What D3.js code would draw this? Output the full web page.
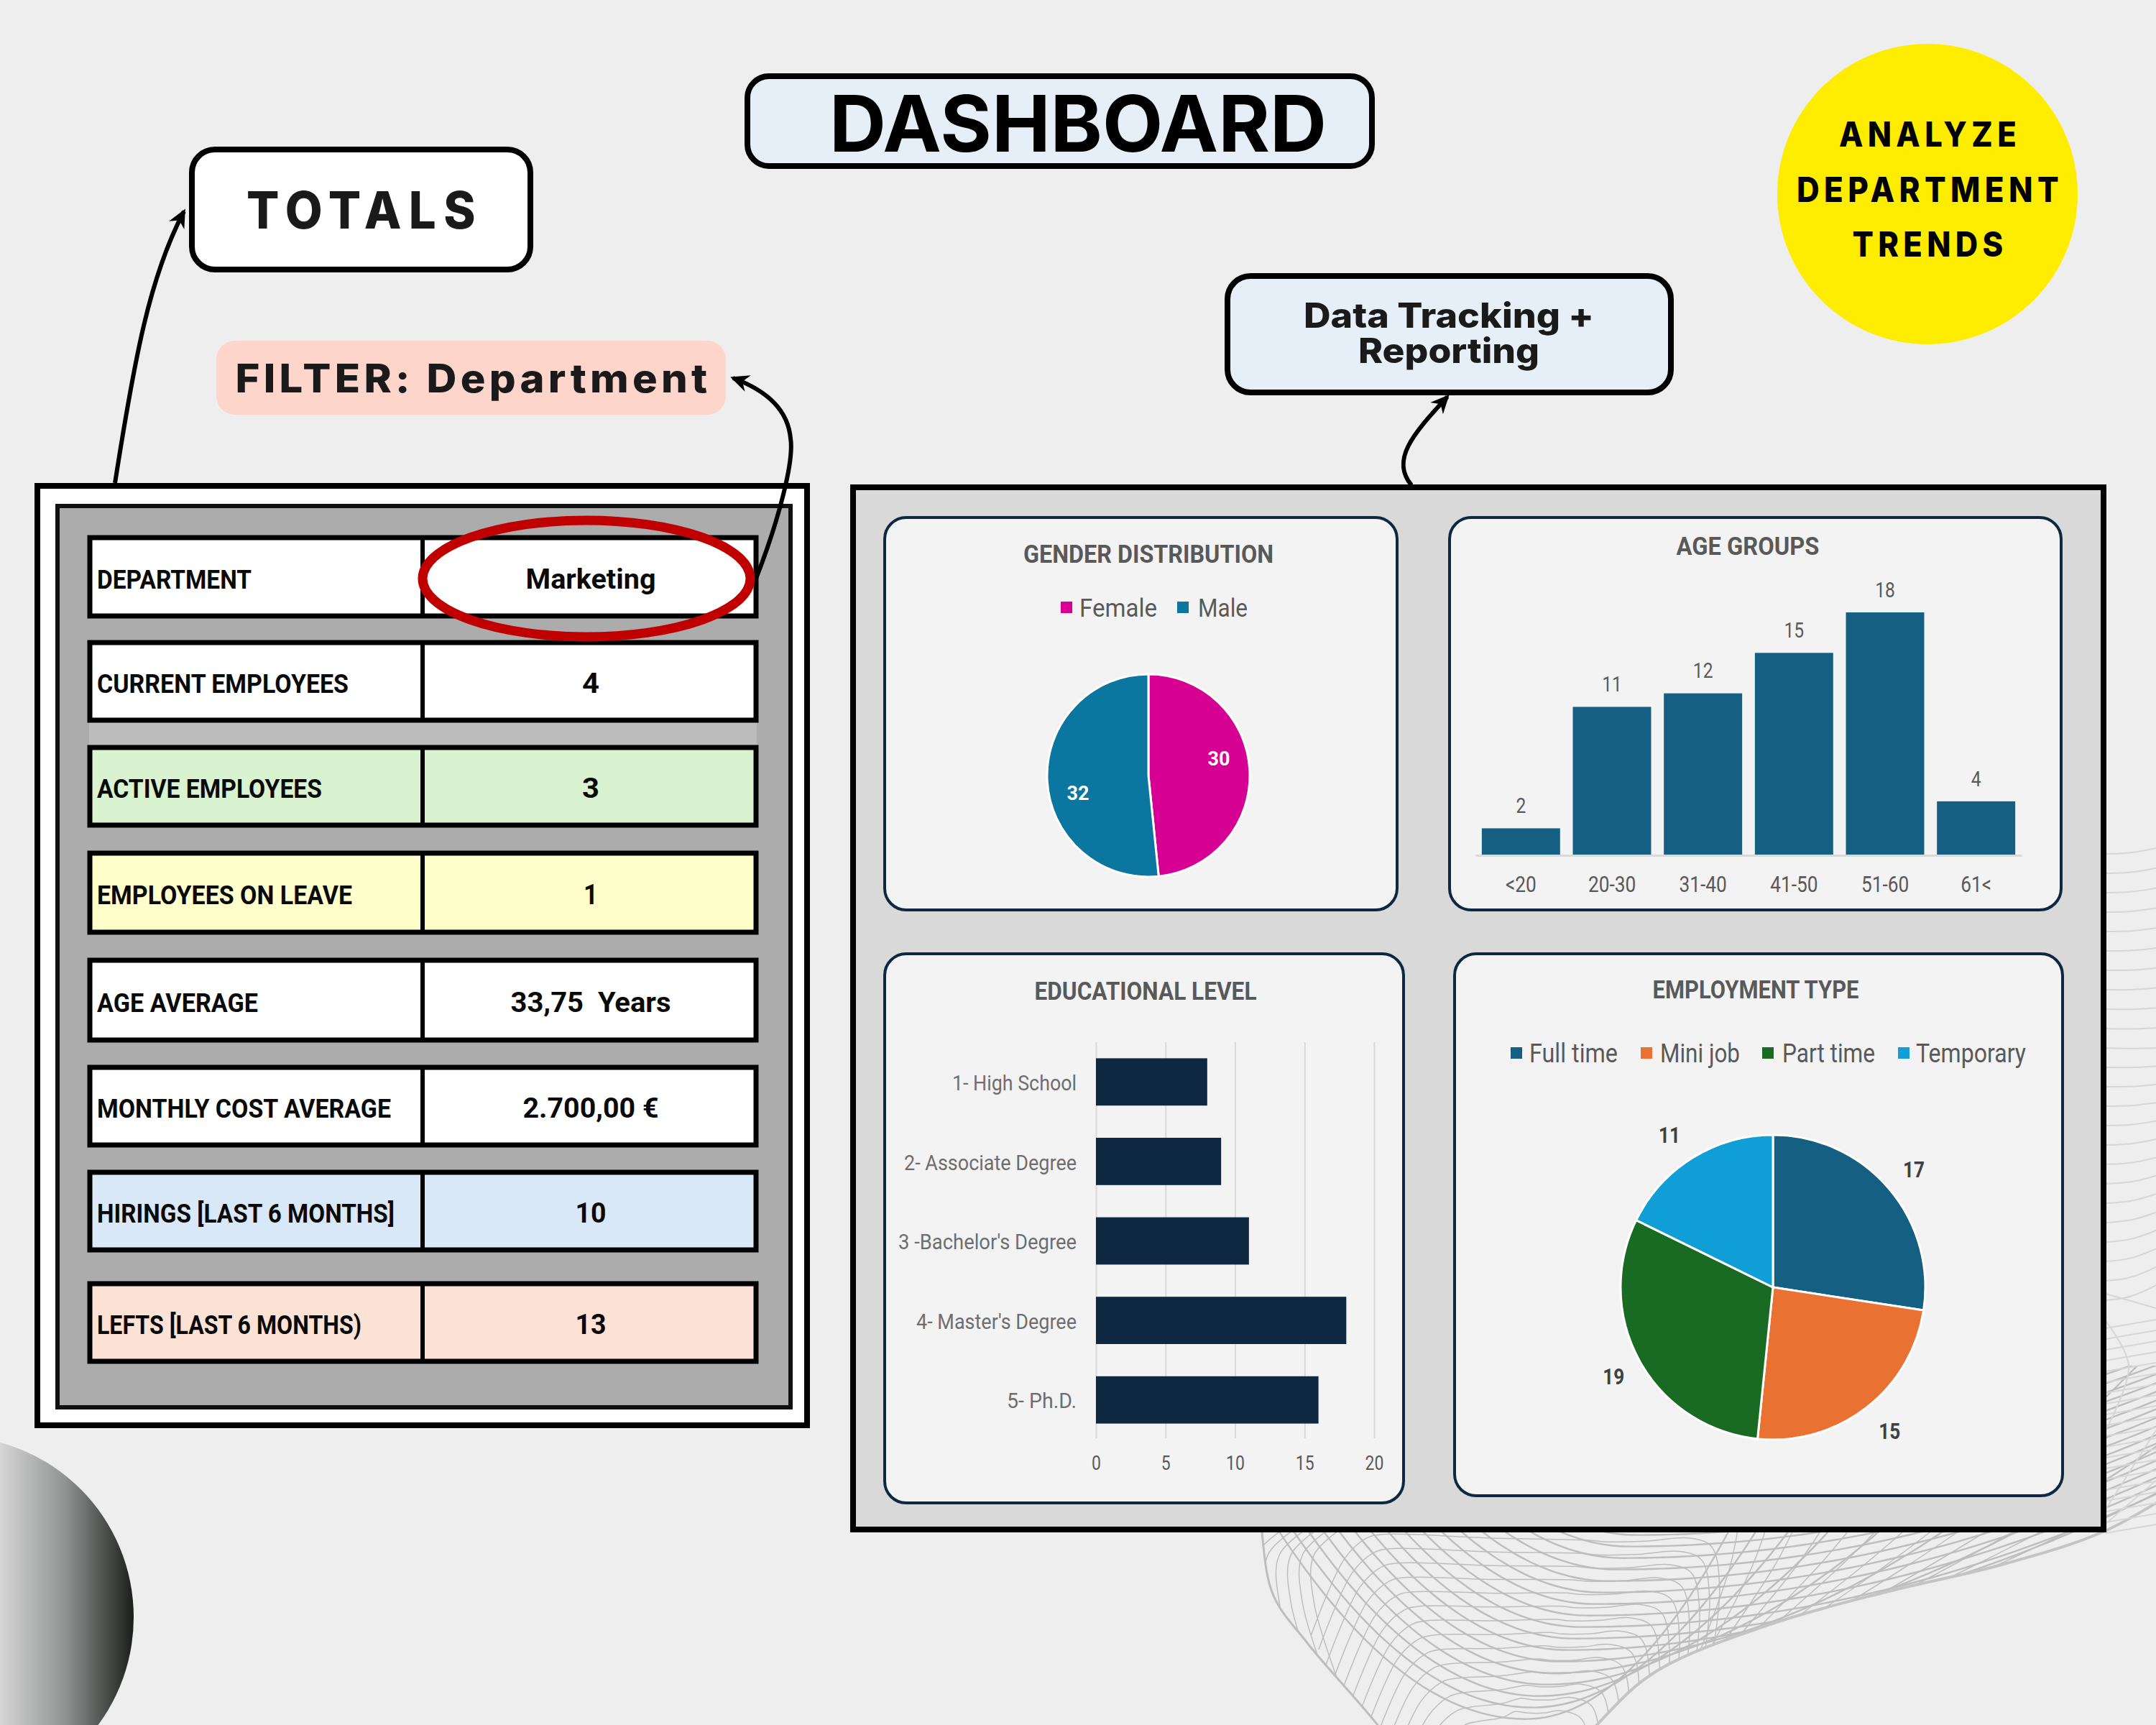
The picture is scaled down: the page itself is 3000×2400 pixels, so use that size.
<!DOCTYPE html>
<html>
<head>
<meta charset="utf-8">
<script src="https://cdn.jsdelivr.net/npm/d3@7/dist/d3.min.js"></script>
<style>
  html, body { margin: 0; padding: 0; background: #eeeeee; }
  svg { display: block; }
</style>
</head>
<body>
<div id="chart"></div>
<script>
// values
const rowLabels = ["DEPARTMENT", "CURRENT EMPLOYEES", "ACTIVE EMPLOYEES", "EMPLOYEES ON LEAVE", "AGE AVERAGE", "MONTHLY COST AVERAGE", "HIRINGS [LAST 6 MONTHS]", "LEFTS [LAST 6 MONTHS)"];
const rowValues = ["Marketing", "4", "3", "1", "33,75  Years", "2.700,00 €", "10", "13"];

const genderNames = ["Female", "Male"];
const genderCounts = [30, 32];

const ageGroups = ["<20", "20-30", "31-40", "41-50", "51-60", "61<"];
const ageCounts = [2, 11, 12, 15, 18, 4];

const eduLevels = ["1- High School", "2- Associate Degree", "3 -Bachelor's Degree", "4- Master's Degree", "5- Ph.D."];
const eduCounts = [8, 9, 11, 18, 16];
const eduTicks = [0, 5, 10, 15, 20];

const jobTypes = ["Full time", "Mini job", "Part time", "Temporary"];
const jobCounts = [17, 15, 19, 11];

// table layout, separate from the values
const rowBoxes = [[745, 860], [891, 1005], [1037, 1151], [1184, 1300], [1333, 1450], [1482, 1596], [1628, 1742], [1783, 1897]];
const rowFills = ["#ffffff", "#ffffff", "#d9f2d0", "#ffffcc", "#ffffff", "#ffffff", "#d9e8f7", "#fbe2d5"];
const labelWidths = [215, 350, 313, 355, 224, 409, 414, 368];
const valueWidths = [181, 24, 24, 20, 223, 189, 43, 43];
const eduLabelWidths = [173, 240, 248, 223, 97];
const jobLabelNudge = [[1, 3], [5, -3], [3, -1], [-8, 6]];

const narrow = "Roboto, 'Liberation Sans', sans-serif";
const heavy = "Inter, 'Open Sans', sans-serif";
const ink = "#1a1a1a";
const grey = "#595959";
const narrowRatio = 0.82;

const svg = d3.select("#chart").append("svg").attr("width", 3000).attr("height", 2400);
svg.append("rect").attr("width", 3000).attr("height", 2400).attr("fill", "#eeeeee");
const defs = svg.append("defs");

// chart text in the reference is a narrow face, so pull the glyphs in
function squeeze(sel) {
  sel.each(function () {
    d3.select(this).attr("textLength", this.getComputedTextLength() * narrowRatio).attr("lengthAdjust", "spacingAndGlyphs");
  });
}

// text helper, width squeezes the glyphs to the measured size
function put(g, str, x, y, o) {
  const t = g.append("text").attr("x", x + (o.track || 0) / 2).attr("y", y).attr("dy", "0.36em")
    .attr("text-anchor", o.anchor || "middle")
    .attr("font-family", o.font || narrow)
    .attr("font-weight", o.weight || "normal")
    .attr("font-size", o.size)
    .attr("fill", o.fill || ink)
    .style("white-space", "pre")
    .text(str);
  if (o.track) t.attr("letter-spacing", o.track);
  if (o.width) t.attr("textLength", o.width).attr("lengthAdjust", "spacingAndGlyphs");
  else squeeze(t);
  return t;
}

/* ---------- backdrop: wire mesh and the shaded ball ---------- */
const mesh = svg.append("g");
const leftEdge = [[1752, 2040], [1756, 2133], [1772, 2220], [1820, 2287], [1917, 2400], [2040, 2560]];
const rightEdge = [[3050, 2060], [2929, 2130], [2785, 2177], [2624, 2215], [2463, 2260], [2302, 2327], [2222, 2400], [2090, 2560]];

defs.append("clipPath").attr("id", "meshClip").append("path")
  .attr("d", d3.line().curve(d3.curveCatmullRom)(leftEdge) + "L" + d3.line().curve(d3.curveCatmullRom)(rightEdge.slice().reverse()).slice(1) + "L3050,1900L1752,1900Z");
const meshLines = mesh.append("g").attr("clip-path", "url(#meshClip)").attr("fill", "none").attr("stroke", "#bdbdbd");

// mesh is measured in crop space, 1260x280 at 1.244 by 3
const zx = x => 1740 + x / 1.244, zy = y => 2120 + y / 3;
const smooth = d3.line().curve(d3.curveCatmullRom.alpha(0.5));

// thick sagging strands, lowest one first
d3.range(26).forEach(i => {
  const cy = 815 - 48 * i;
  const cx = 480 + (800 - cy) * 0.25;
  const steepR = 0.00056 + 0.0034 * Math.pow(Math.max(0, (cy - 450) / 280), 2);
  const pts = d3.range(-100, 1700, 20).map(x => {
    const run = x - cx;
    return [zx(x), zy(cy - (run < 0 ? 0.0043 * run * run : steepR * run * run))];
  });
  meshLines.append("path").attr("d", smooth(pts)).attr("stroke-width", 2.4);
});

// thin nested M curves
d3.range(14).forEach(i => {
  const t = i / 13;
  const lp = [395 - 170 * t, 825 - 780 * t];
  const dp = [480 + 130 * t, 790 - 715 * t];
  const rp = [535 + 225 * t, 780 - 720 * t];
  const pts = [
    [lp[0] - 120, lp[1] + 420], [lp[0] - 62, lp[1] + 100], [lp[0] - 25, lp[1] + 16], lp,
    [(lp[0] + dp[0]) / 2, (lp[1] + dp[1]) / 2], [dp[0] - 22, dp[1] - 6], dp,
    [(dp[0] + rp[0]) / 2, (dp[1] + rp[1]) / 2 + 5], rp,
    [rp[0] + 38, rp[1] + 35], [rp[0] + 52, rp[1] + 200], [rp[0] + 40, rp[1] + 480]
  ].map(d => [zx(d[0]), zy(d[1])]);
  meshLines.append("path").attr("d", smooth(pts)).attr("stroke-width", 1.5);
});

// thin runs left and right of the M curves
d3.range(6).forEach(i => {
  const x0 = 10 + 20 * i;
  const pts = [[x0 + 60, 0], [x0, 130], [x0, 330], [x0 + 70, 840]].map(d => [zx(d[0]), zy(d[1])]);
  meshLines.append("path").attr("d", smooth(pts)).attr("stroke-width", 1.5);
});
d3.range(13).forEach(i => {
  const x0 = 840 + 50 * i;
  const pts = [[x0 + 5, 0], [x0 - 10 - 12 * i, 180], [x0 - 60 - 34 * i, 520]].map(d => [zx(d[0]), zy(d[1])]);
  meshLines.append("path").attr("d", smooth(pts)).attr("stroke-width", 1.5);
});

mesh.append("path").attr("d", smooth(leftEdge)).attr("fill", "none").attr("stroke", "#bdbdbd").attr("stroke-width", 3);
mesh.append("path").attr("d", smooth(rightEdge)).attr("fill", "none").attr("stroke", "#c4c4c4").attr("stroke-width", 4);

// strands showing to the right of the chart panel
const strip = svg.append("g").attr("fill", "none").attr("stroke", "#d6d6d6").attr("stroke-width", 2);
d3.range(24).forEach(i => {
  const y = 1188 + i * 27;
  const lift = i < 10 ? 8 - i * 0.8 : (i - 10) * 1.6;
  strip.append("path").attr("d", d3.line().curve(d3.curveBasis)([[2930, y], [2965, y + 1 - lift * 0.2], [3000, y - lift]]));
});
d3.range(20).forEach(i => {
  const y = 1848 + i * 15;
  strip.append("path").attr("d", d3.line()([[2930, y], [3000, y - 12]]));
});
[[[2930, 1800], [3000, 1820]], [[2930, 1838], [2962, 1900], [2930, 1990]], [[2930, 2100], [3000, 1990]], [[2930, 2120], [3000, 2060]]].forEach(p => {
  strip.append("path").attr("d", smooth(p));
});

// shaded ball, bottom left
const ballFade = defs.append("linearGradient").attr("id", "ballFade")
  .attr("gradientUnits", "userSpaceOnUse").attr("x1", 0).attr("x2", 186).attr("y1", 0).attr("y2", 0);
ballFade.append("stop").attr("offset", 0).attr("stop-color", "#d6d6d6");
ballFade.append("stop").attr("offset", 0.5).attr("stop-color", "#8f9190");
ballFade.append("stop").attr("offset", 1).attr("stop-color", "#1c1e1c");
svg.append("circle").attr("cx", -66).attr("cy", 2250).attr("r", 252).attr("fill", "url(#ballFade)");

/* ---------- heading boxes ---------- */
svg.append("rect").attr("x", 1040).attr("y", 106).attr("width", 869).attr("height", 125).attr("rx", 30)
  .attr("fill", "#e6eef7").attr("stroke", "#000").attr("stroke-width", 8);
put(svg, "DASHBOARD", 1500, 172, { font: heavy, weight: 700, size: 108, width: 692, fill: "#000" });

svg.append("rect").attr("x", 267).attr("y", 208).attr("width", 471).attr("height", 167).attr("rx", 32)
  .attr("fill", "#fff").attr("stroke", "#000").attr("stroke-width", 8);
put(svg, "TOTALS", 502, 292, { font: heavy, weight: 800, size: 71, width: 329, track: 11 });

svg.append("rect").attr("x", 301).attr("y", 474).attr("width", 709).attr("height", 103).attr("rx", 26).attr("fill", "#fdd5cb");
put(svg, "FILTER: Department", 656, 526, { font: heavy, weight: 800, size: 55, width: 662, track: 5 });

svg.append("circle").attr("cx", 2682).attr("cy", 270).attr("r", 209).attr("fill", "#ffed00");
put(svg, "ANALYZE", 2682, 187, { font: heavy, weight: 800, size: 48, width: 253, track: 7, fill: "#000" });
put(svg, "DEPARTMENT", 2682, 264, { font: heavy, weight: 800, size: 48, width: 371, track: 7, fill: "#000" });
put(svg, "TRENDS", 2682, 340, { font: heavy, weight: 800, size: 48, width: 216, track: 7, fill: "#000" });

svg.append("rect").attr("x", 1708).attr("y", 384).attr("width", 617).attr("height", 162).attr("rx", 32)
  .attr("fill", "#e6eef7").attr("stroke", "#000").attr("stroke-width", 8);
put(svg, "Data Tracking +", 2016, 439, { font: heavy, weight: 800, size: 48, width: 404 });
put(svg, "Reporting", 2016, 488, { font: heavy, weight: 800, size: 48, width: 252 });

/* ---------- totals table ---------- */
svg.append("rect").attr("x", 52).attr("y", 676).attr("width", 1071).attr("height", 1307)
  .attr("fill", "#fff").attr("stroke", "#000").attr("stroke-width", 8);
svg.append("rect").attr("x", 80).attr("y", 704).attr("width", 1020).attr("height", 1254)
  .attr("fill", "#acacac").attr("stroke", "#111").attr("stroke-width", 6);
svg.append("rect").attr("x", 124).attr("y", 1005).attr("width", 929).attr("height", 32).attr("fill", "#bcbcbc");

const rows = svg.append("g").selectAll("g").data(rowLabels).join("g");
rows.append("rect").attr("x", 125).attr("width", 927)
  .attr("y", (d, i) => rowBoxes[i][0] + 3)
  .attr("height", (d, i) => rowBoxes[i][1] - rowBoxes[i][0] - 6)
  .attr("fill", (d, i) => rowFills[i])
  .attr("stroke", "#000").attr("stroke-width", 7);
rows.append("line").attr("x1", 588).attr("x2", 588)
  .attr("y1", (d, i) => rowBoxes[i][0] + 3)
  .attr("y2", (d, i) => rowBoxes[i][1] - 3)
  .attr("stroke", "#000").attr("stroke-width", 6);
rows.each(function (d, i) {
  const g = d3.select(this);
  const mid = (rowBoxes[i][0] + rowBoxes[i][1]) / 2;
  put(g, d, 135, mid + 3, { anchor: "start", weight: 700, size: 37, width: labelWidths[i], fill: "#0a0a0a" });
  put(g, rowValues[i], 822, mid + 2, { weight: 700, size: 39, width: valueWidths[i], fill: "#0a0a0a" });
});

/* ---------- chart panel and cards ---------- */
svg.append("rect").attr("x", 1187).attr("y", 678).attr("width", 1740).attr("height", 1450)
  .attr("fill", "#d9d9d9").attr("stroke", "#000").attr("stroke-width", 8);

function card(x0, x1, y0, y1) {
  svg.append("rect").attr("x", x0 + 2).attr("y", y0 + 2).attr("width", x1 - x0 - 4).attr("height", y1 - y0 - 4).attr("rx", 30)
    .attr("fill", "#f3f3f3").attr("stroke", "#0e2841").attr("stroke-width", 4);
}
card(1229, 1946, 718, 1268);
card(2015, 2870, 718, 1268);
card(1229, 1955, 1325, 2093);
card(2022, 2872, 1325, 2083);

put(svg, "GENDER DISTRIBUTION", 1598, 770, { weight: 700, size: 35, width: 348, fill: grey });
put(svg, "AGE GROUPS", 2432, 759, { weight: 700, size: 35, width: 199, fill: grey });
put(svg, "EDUCATIONAL LEVEL", 1594, 1378, { weight: 700, size: 35, width: 309, fill: grey });
put(svg, "EMPLOYMENT TYPE", 2443, 1376, { weight: 700, size: 35, width: 287, fill: grey });

// legends
function legend(items, colors, swatchX, textX, widths, y, size) {
  items.forEach((name, i) => {
    svg.append("rect").attr("x", swatchX[i]).attr("y", y - 8).attr("width", 16).attr("height", 16).attr("fill", colors[i]);
    put(svg, name, textX[i], y, { anchor: "start", size: size, width: widths[i], fill: grey });
  });
}
const genderColors = ["#d60093", "#0b76a0"];
const jobColors = ["#156082", "#e97132", "#196b24", "#0f9ed5"];
legend(genderNames, genderColors, [1476, 1638], [1502, 1667], [108, 69], 845, 35);
legend(jobTypes, jobColors, [2102, 2283, 2452, 2641], [2128, 2310, 2480, 2666], [123, 111, 129, 153], 1465, 36);

/* ---------- gender pie ---------- */
const pie = d3.pie().sort(null);
const genderArc = d3.arc().innerRadius(0).outerRadius(141);
const genderPie = svg.append("g").attr("transform", "translate(1598,1079)");
const genderSlices = pie(genderCounts);
genderPie.selectAll("path").data(genderSlices).join("path")
  .attr("d", genderArc)
  .attr("fill", (d, i) => genderColors[i])
  .attr("stroke", "#fff").attr("stroke-width", 3);
const genderLabelTurn = -0.19;
const genderLabelArc = d3.arc().innerRadius(101).outerRadius(101);
genderSlices.forEach(d => {
  const c = genderLabelArc.centroid({ startAngle: d.startAngle + genderLabelTurn, endAngle: d.endAngle + genderLabelTurn });
  put(genderPie, d.value, c[0], c[1], { weight: 700, size: 28, width: 31, fill: "#fff" });
});

/* ---------- age bars ---------- */
const ageX = d3.scaleBand().domain(ageGroups).range([2053, 2813]).paddingInner(0.14).paddingOuter(0.07);
const ageY = d3.scaleLinear().domain([0, 18]).range([1190, 852]);
const ageG = svg.append("g");
ageG.selectAll("rect").data(ageCounts).join("rect")
  .attr("x", (d, i) => ageX(ageGroups[i]))
  .attr("y", d => ageY(d))
  .attr("width", ageX.bandwidth())
  .attr("height", d => ageY(0) - ageY(d))
  .attr("fill", "#156082");
ageCounts.forEach((d, i) => {
  put(ageG, d, ageX(ageGroups[i]) + ageX.bandwidth() / 2, ageY(d) - 32, { size: 30, fill: grey });
});
const ageAxis = svg.append("g").attr("transform", "translate(0,1190)")
  .call(d3.axisBottom(ageX).tickSize(0).tickPadding(28));
ageAxis.select(".domain").attr("stroke", "#d9d9d9").attr("stroke-width", 3);
ageAxis.selectAll("text").attr("font-family", narrow).attr("font-size", 32).attr("fill", grey).call(squeeze);

/* ---------- education bars ---------- */
const eduX = d3.scaleLinear().domain([0, 20]).range([1525, 1912]);
const eduY = d3.scaleBand().domain(eduLevels).range([1450, 2003]).paddingInner(0.405).paddingOuter(0.2025);
const eduGrid = svg.append("g").attr("transform", "translate(0,2001)")
  .call(d3.axisBottom(eduX).tickValues(eduTicks).tickSize(-551).tickPadding(24));
eduGrid.select(".domain").remove();
eduGrid.selectAll("line").attr("stroke", "#d9d9d9").attr("stroke-width", 2);
eduGrid.selectAll("text").attr("font-family", narrow).attr("font-size", 28).attr("fill", grey).call(squeeze);
svg.append("g").selectAll("rect").data(eduCounts).join("rect")
  .attr("x", eduX(0))
  .attr("y", (d, i) => eduY(eduLevels[i]))
  .attr("width", d => eduX(d) - eduX(0))
  .attr("height", eduY.bandwidth())
  .attr("fill", "#0e2841");
const eduAxis = svg.append("g").attr("transform", "translate(1498,2)")
  .call(d3.axisLeft(eduY).tickSize(0).tickPadding(0));
eduAxis.select(".domain").remove();
eduAxis.selectAll("text").attr("font-family", narrow).attr("font-size", 30).attr("fill", "#6e6e6e")
  .each(function (d, i) { d3.select(this).attr("textLength", eduLabelWidths[i]).attr("lengthAdjust", "spacingAndGlyphs"); });

/* ---------- employment pie ---------- */
const jobArc = d3.arc().innerRadius(0).outerRadius(212);
const jobLabelArc = d3.arc().innerRadius(257).outerRadius(257);
const jobPie = svg.append("g").attr("transform", "translate(2467,1791)");
const jobSlices = pie(jobCounts);
jobPie.selectAll("path").data(jobSlices).join("path")
  .attr("d", jobArc)
  .attr("fill", (d, i) => jobColors[i])
  .attr("stroke", "#fff").attr("stroke-width", 3);
jobSlices.forEach((d, i) => {
  const c = jobLabelArc.centroid(d);
  put(jobPie, d.value, c[0] + jobLabelNudge[i][0], c[1] + jobLabelNudge[i][1], { weight: 700, size: 31, width: 30, fill: "#404040" });
});

/* ---------- arrows and the red ring ---------- */
const head = defs.append("marker").attr("id", "head").attr("markerUnits", "userSpaceOnUse")
  .attr("viewBox", "-24 -14 30 28").attr("refX", 0).attr("refY", 0)
  .attr("markerWidth", 30).attr("markerHeight", 28).attr("orient", "auto");
head.append("path").attr("d", "M4,0 L-22,-12 L-14,0 L-22,12 Z").attr("fill", "#000");

const arrows = svg.append("g").attr("fill", "none").attr("stroke", "#000").attr("stroke-width", 6);
arrows.append("path").attr("d", "M160,672 C187,500 208,385 256,294").attr("marker-end", "url(#head)");
arrows.append("path").attr("d", "M1052,805 C1085,720 1105,640 1100,610 C1096,565 1058,540 1020,526").attr("marker-end", "url(#head)");
arrows.append("path").attr("d", "M1964,675 C1935,640 1965,605 2014,552").attr("marker-end", "url(#head)");

svg.append("ellipse").attr("cx", 816).attr("cy", 805).attr("rx", 228).attr("ry", 81)
  .attr("fill", "none").attr("stroke", "#c00000").attr("stroke-width", 13);
</script>
</body>
</html>
